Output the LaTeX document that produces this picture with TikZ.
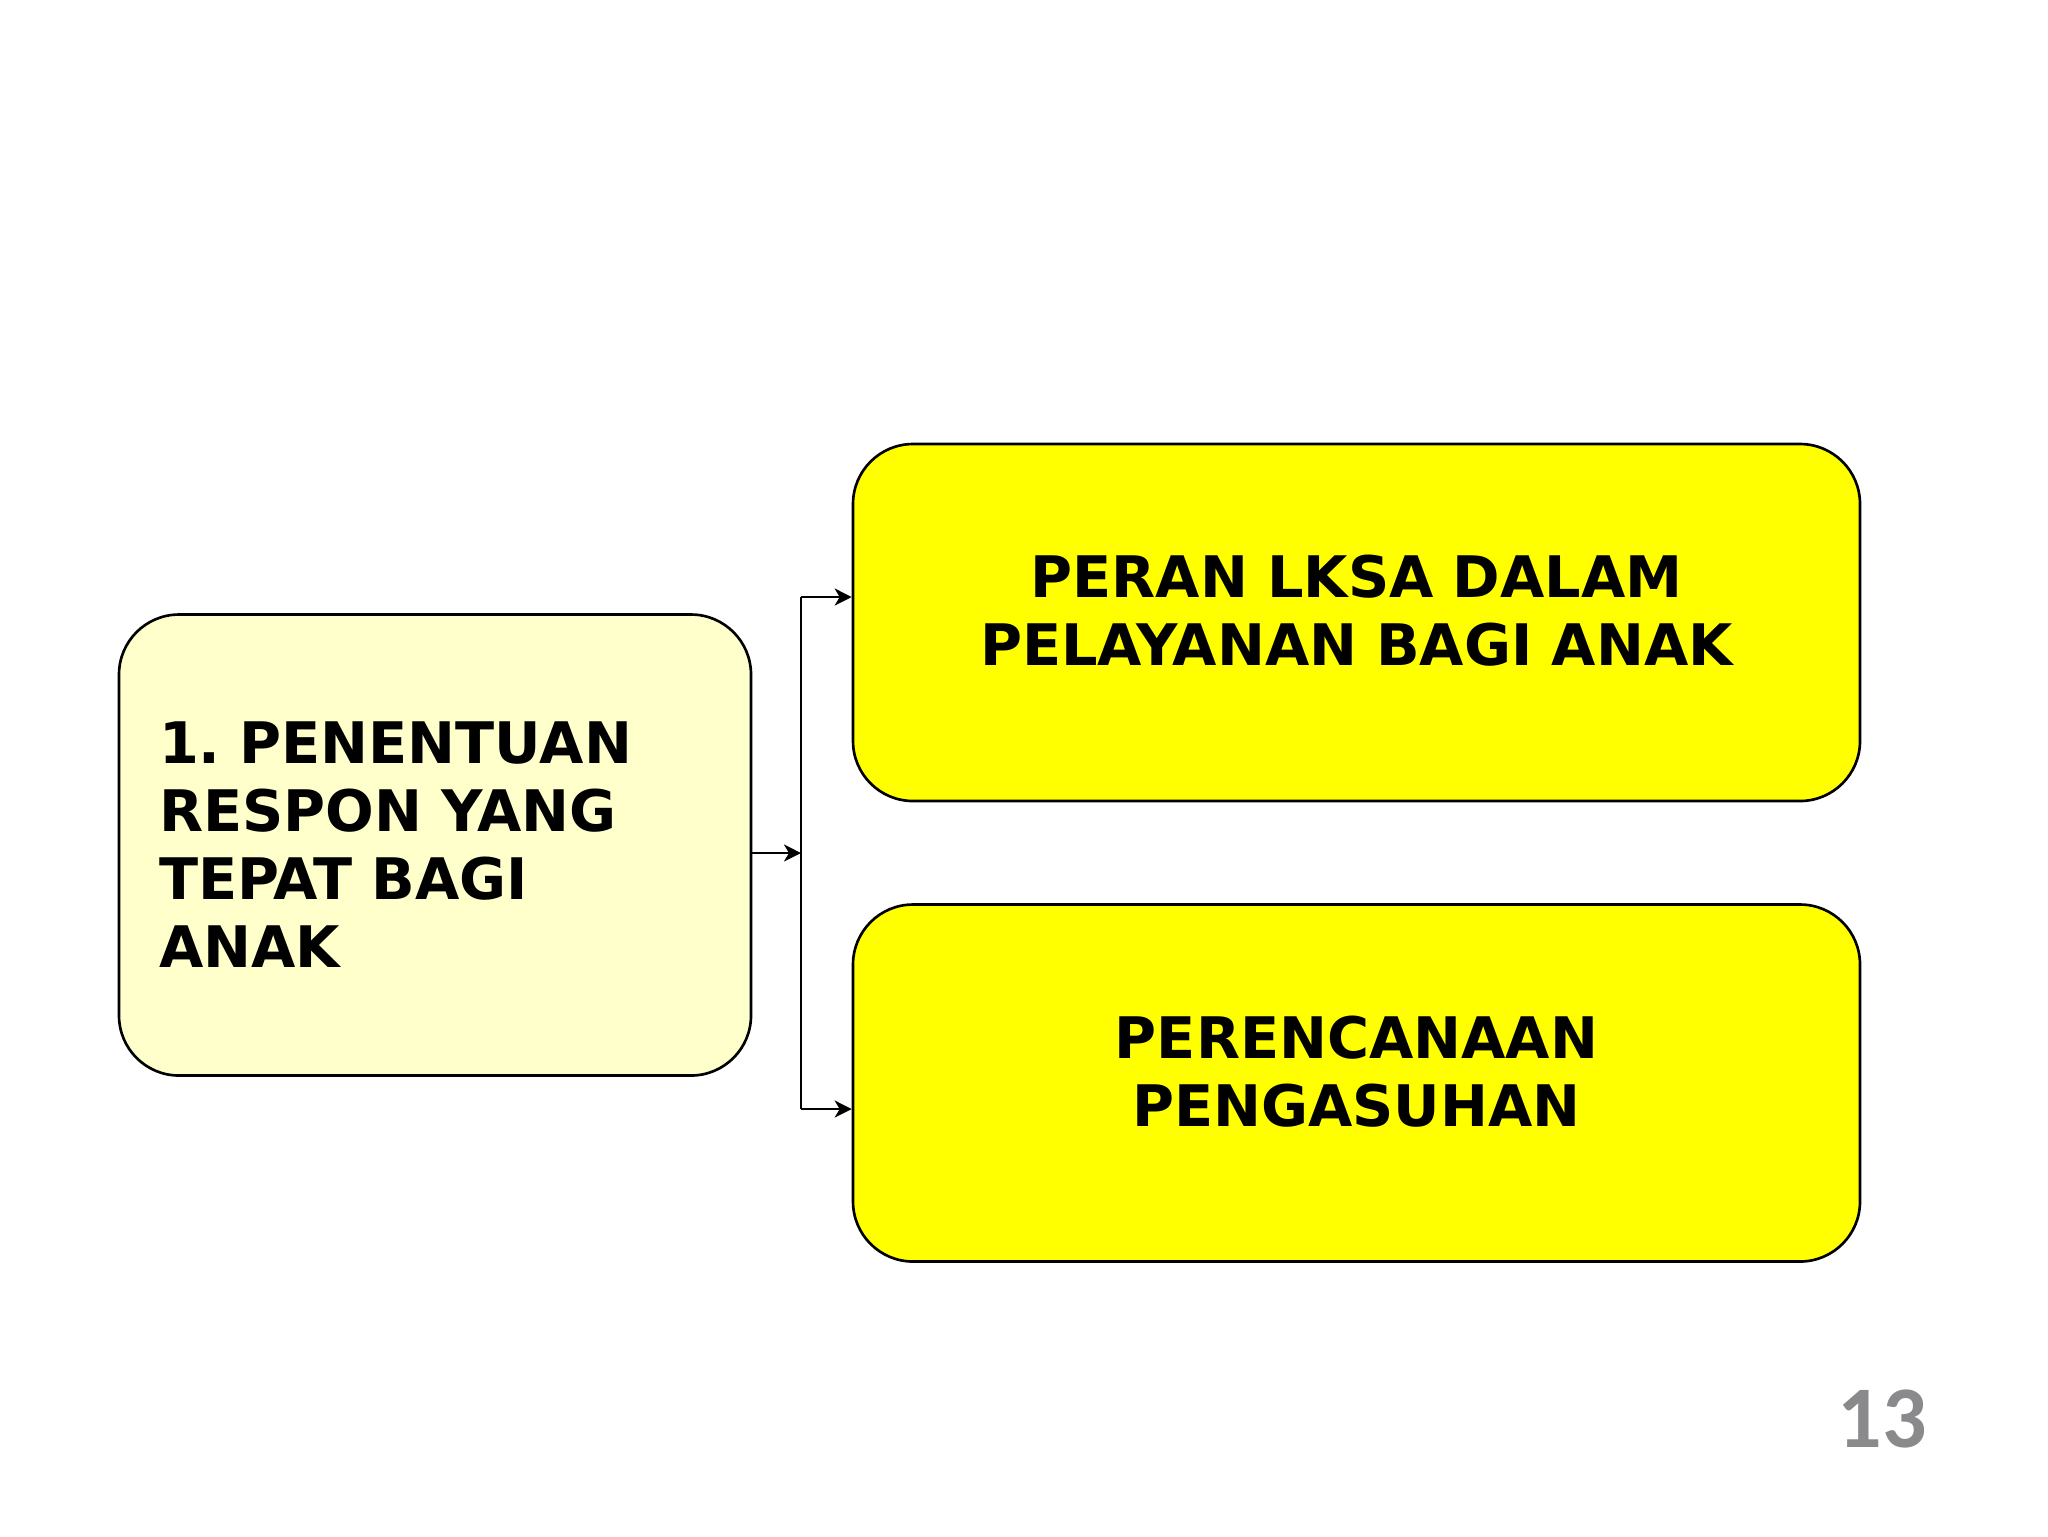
\documentclass[tikz,border=0pt]{standalone}
\usepackage{fontspec}
\setmainfont{DejaVu Sans}
\newfontfamily\numfont{Carlito}
\usetikzlibrary{arrows.meta}
\definecolor{paleyellow}{HTML}{FFFFCC}
\definecolor{brightyellow}{HTML}{FFFF00}
\definecolor{pagegray}{HTML}{8A8A8C}
\frenchspacing
\tikzset{
  boxbase/.style={draw=black, line width=0.75pt, rounded corners=6mm,
    font=\bfseries\fontsize{16.3}{19.35}\selectfont, inner sep=0pt},
  leftbox/.style={boxbase, fill=paleyellow, minimum width=63.2mm, minimum height=46.1mm,
    text width=55.2mm, align=left},
  rightbox/.style={boxbase, fill=brightyellow, minimum width=100.7mm, minimum height=35.7mm,
    text width=95mm, align=center},
  conn/.style={line width=0.7pt},
  arr/.style={conn, -{Stealth[length=1.7mm, width=1.7mm, inset=0.5mm]}}
}
\begin{document}
\begin{tikzpicture}[x=0.1mm, y=-0.1mm]
\useasboundingbox[fill=white] (0,0) rectangle (2048,1536);
\node[leftbox] (L) at (435,845) {1. PENENTUAN\\RESPON YANG\\TEPAT BAGI\\ANAK};
\node[rightbox] (A) at (1356.5,622.5) {PERAN LKSA DALAM\\PELAYANAN BAGI ANAK\rule[-2.5mm]{0pt}{0pt}};
\node[rightbox] (B) at (1356.5,1083) {PERENCANAAN\\PENGASUHAN\rule[-2.4mm]{0pt}{0pt}};
\coordinate (J) at (801,853);
\coordinate (JA) at (801,597);
\coordinate (JB) at (801,1109);
\draw[arr] (L.east |- J) -- (J);
\draw[conn] (JA) -- (JB);
\draw[arr] (JA) -- (A.west |- JA);
\draw[arr] (JB) -- (B.west |- JB);
\node[font=\numfont\bfseries\fontsize{25}{30}\selectfont, text=pagegray, inner sep=0pt] (P) at (1882,1418.5) {13};
\end{tikzpicture}
\end{document}
